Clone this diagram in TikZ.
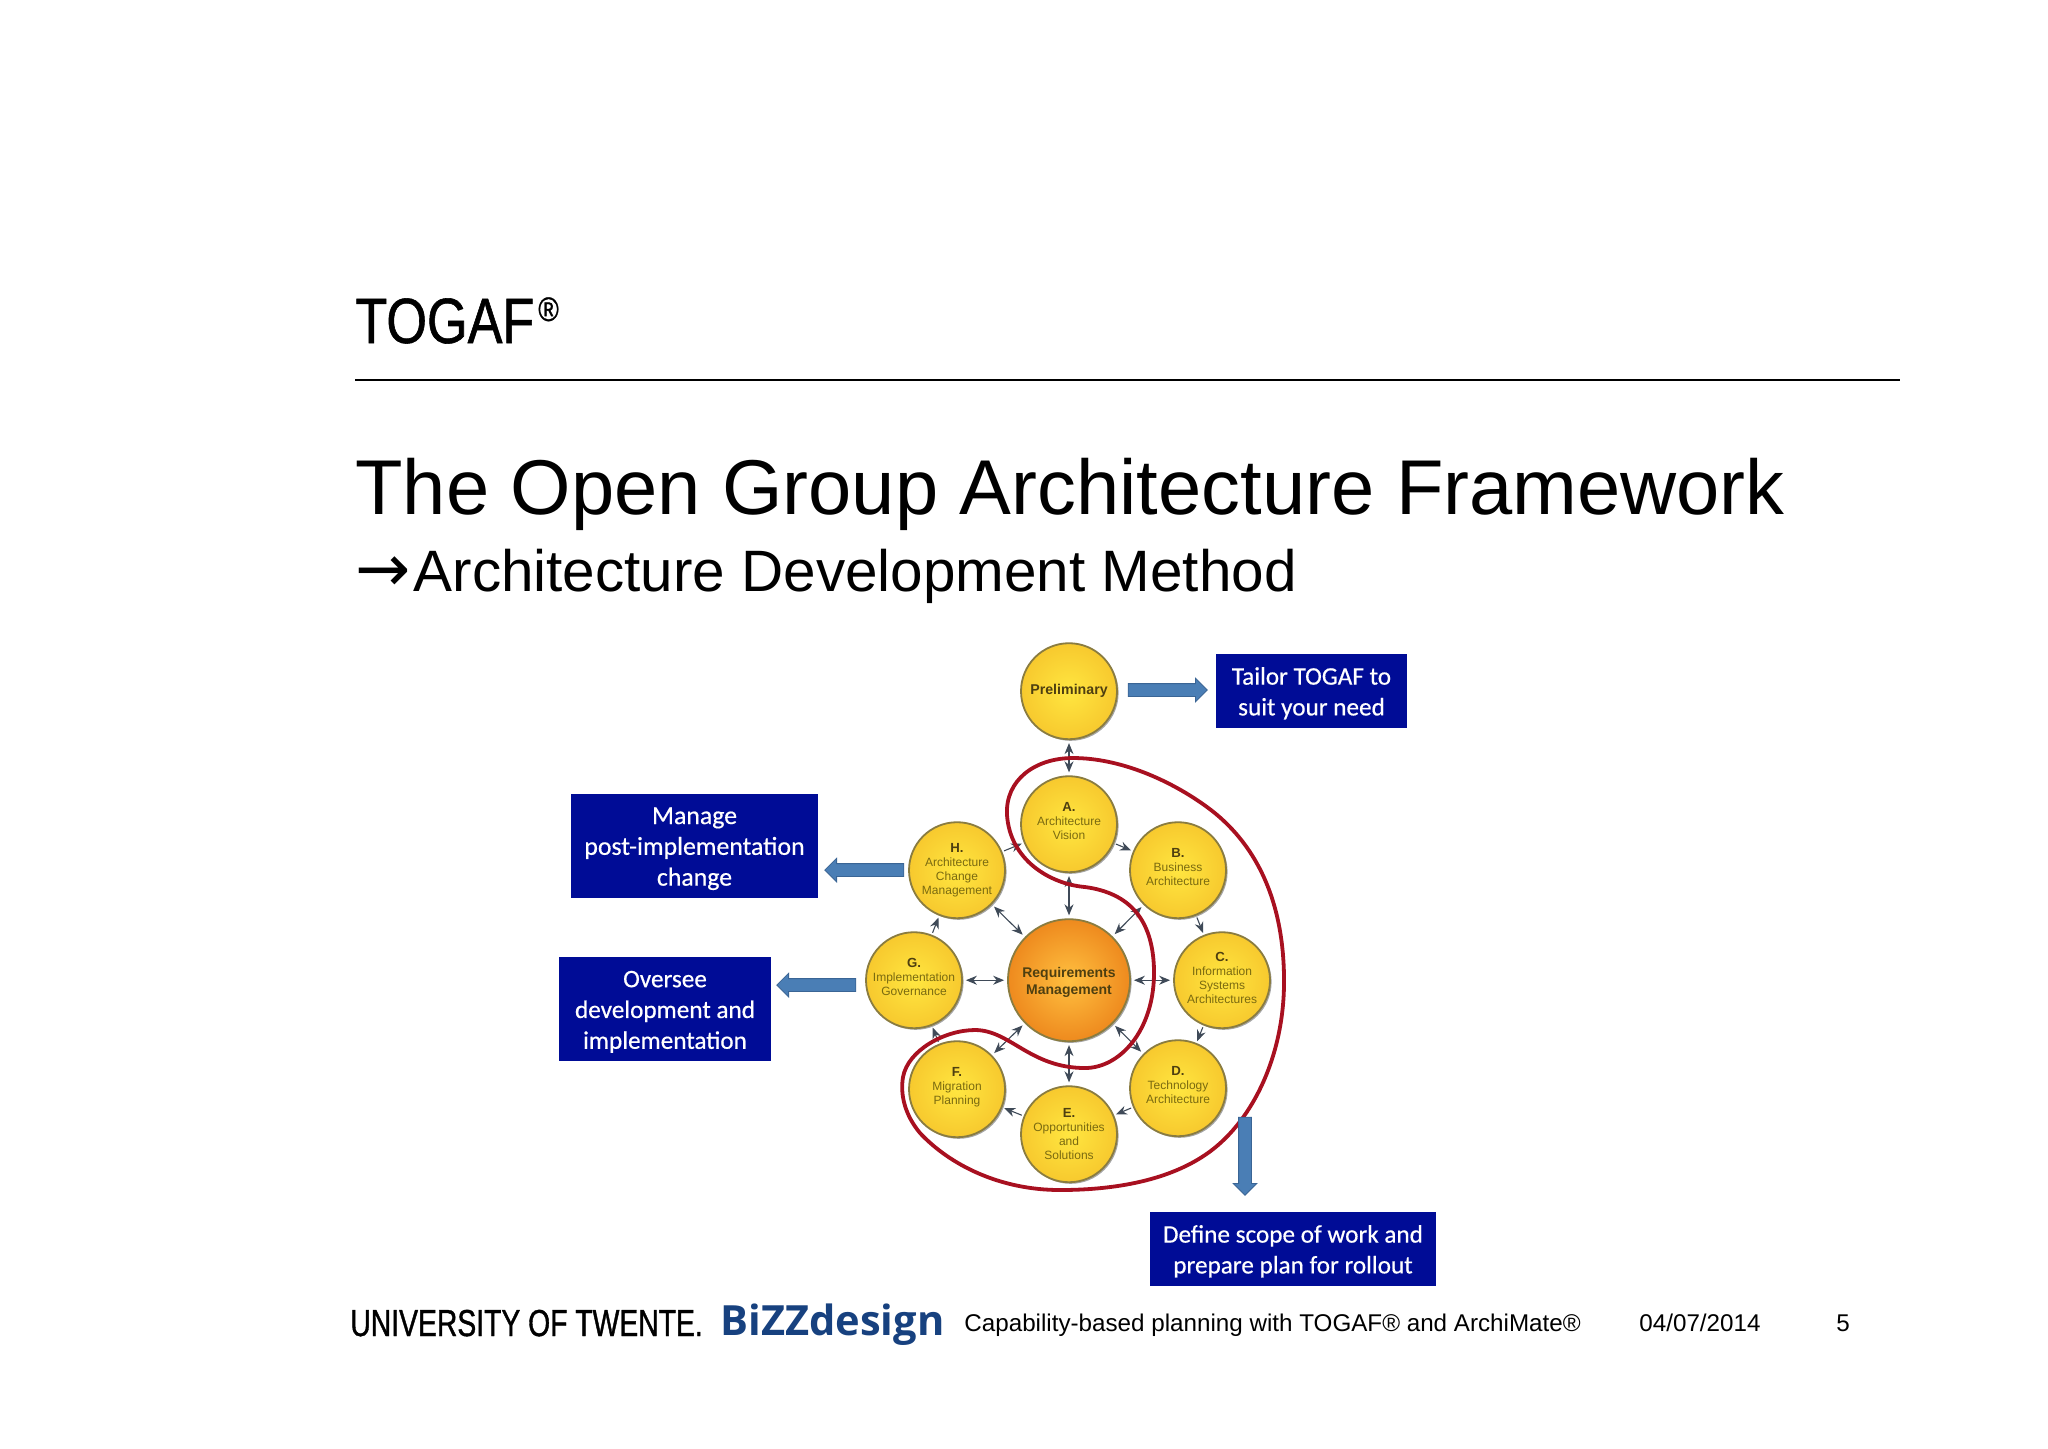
\documentclass[tikz,border=0pt]{standalone}
\usepackage{fontspec}
\setmainfont{Liberation Sans}
\newfontfamily\condfont[FakeStretch=0.816,FakeBold=0.9]{Liberation Sans}
\newfontfamily\ufont[FakeStretch=0.753,FakeBold=1]{Liberation Sans}
\newfontfamily\boxfont[FakeBold=0.5]{Carlito}
\newfontfamily\logofont{Open Sans}
\newfontfamily\arrowfont{DejaVu Sans}
\usetikzlibrary{arrows.meta,shapes.arrows,shadows}
\definecolor{ballrim}{HTML}{8A7C40}
\definecolor{ballmid}{HTML}{FFE640}
\definecolor{ballout}{HTML}{F7C92E}
\definecolor{reqmid}{HTML}{FFC040}
\definecolor{reqout}{HTML}{EE8A1E}
\definecolor{boxblue}{HTML}{000C96}
\definecolor{arrowblue}{HTML}{4A7EB5}
\definecolor{arrowrim}{HTML}{3A6595}
\definecolor{loopred}{HTML}{A81020}
\definecolor{linkgrey}{HTML}{3F4A58}
\definecolor{balltext}{HTML}{7A6A10}
\definecolor{balldark}{HTML}{4E3F10}
\definecolor{logoblue}{HTML}{17417F}
\tikzset{
  ball/.style={circle,draw=ballrim,line width=0.9pt,inner color=ballmid,outer color=ballout,
    minimum size=48pt,inner sep=0pt,align=center,font=\fontsize{6}{7}\selectfont,text=balltext,
    drop shadow={shadow xshift=0.8pt,shadow yshift=-0.8pt,opacity=0.35,fill=black}},
  reqball/.style={ball,inner color=reqmid,outer color=reqout,minimum size=61pt,
    font=\fontsize{7}{8.6}\selectfont\bfseries,text=balldark},
  infobox/.style={fill=boxblue,text=white,align=center,inner sep=0pt,font=\boxfont\fontsize{12.6}{15.4}\selectfont},
  blockarrow/.style={single arrow,draw=arrowrim,line width=0.4pt,fill=arrowblue,inner sep=3pt,
    minimum width=11.5pt,single arrow head extend=2.7pt,single arrow head indent=0pt},
  oneway/.style={draw=linkgrey,line width=0.55pt,-{Stealth[length=5.5pt,width=4.5pt]},shorten >=1pt,shorten <=1pt},
  twoway/.style={draw=linkgrey,line width=0.55pt,{Stealth[length=5.5pt,width=4.5pt]}-{Stealth[length=5.5pt,width=4.5pt]},shorten >=1.5pt,shorten <=1.5pt},
  loopline/.style={draw=loopred,line width=1.9pt},
  plain/.style={inner sep=0pt,anchor=base west,text=black}
}
\newcommand{\ltr}[1]{{\fontsize{6.6}{7}\selectfont\bfseries\textcolor{balldark}{#1}}}
\newcommand{\boxlift}{\rule{0pt}{11pt}}
\newcommand{\ballup}{\rule[-3pt]{0pt}{0pt}}
\begin{document}
\begin{tikzpicture}[x=0.5pt,y=-0.5pt]
\useasboundingbox (0,0) rectangle (2048,1448);
\fill[white] (0,0) rectangle (2048,1448);
% headings
\node[plain,font=\condfont\fontsize{32}{32}\selectfont] (togaf) at (355,343) {TOGAF\kern2pt\raisebox{11pt}{\fontsize{17}{17}\selectfont ®}};
\coordinate (ruleL) at (355,380);
\coordinate (ruleR) at (1900,380);
\draw[line width=1.2pt] (ruleL) -- (ruleR);
\node[plain,font=\fontsize{38.85}{40}\selectfont] (title) at (355,514.5) {The Open Group Architecture Framework};
\node[plain,font=\fontsize{29.2}{30}\selectfont] (subtitle) at (355,591) {{\arrowfont\fontsize{33}{33}\selectfont →}\kern1.5pt Architecture Development Method};
% balls
\begin{scope}[yshift=-0.6pt]
\node[ball,font=\fontsize{7.1}{8.6}\selectfont\bfseries,text=balldark] (P) at (1069,690) {\rule{0pt}{5pt}Preliminary};
\node[ball] (A) at (1069,823) {\ltr{A.}\\Architecture\\Vision\ballup};
\node[ball] (B) at (1178,869) {\ltr{B.}\\Business\\Architecture\ballup};
\node[ball] (C) at (1222,979) {\ltr{C.}\\Information\\Systems\\Architectures\rule[-2pt]{0pt}{0pt}};
\node[ball] (D) at (1178,1087) {\ltr{D.}\\Technology\\Architecture\ballup};
\node[ball] (E) at (1069,1133) {\ltr{E.}\\Opportunities\\and\\Solutions};
\node[ball] (F) at (957,1088) {\ltr{F.}\\Migration\\Planning\ballup};
\node[ball] (G) at (914,979) {\ltr{G.}\\Implementation\\Governance\ballup};
\node[ball] (H) at (957,869) {\ltr{H.}\\Architecture\\Change\\Management};
\node[reqball] (R) at (1069,979) {\rule{0pt}{7.5pt}Requirements\\Management};
\end{scope}
% links
\draw[twoway] (P) -- (A);
\draw[oneway] (A) -- (B);
\draw[oneway] (B) -- (C);
\draw[oneway] (C) -- (D);
\draw[oneway] (D) -- (E);
\draw[oneway] (E) -- (F);
\draw[oneway] (F) -- (G);
\draw[oneway] (G) -- (H);
\draw[oneway] (H) -- (A);
\foreach \n in {A,B,C,D,E,F,G,H} {\draw[twoway] (R) -- (\n);}
% red loop
\draw[loopline] (1073,758) .. controls (1120,758) and (1170,780) .. (1207,807)
  .. controls (1255,842) and (1285,900) .. (1284,985)
  .. controls (1283,1060) and (1250,1125) .. (1205,1155)
  .. controls (1165,1182) and (1110,1190) .. (1060,1190)
  .. controls (1000,1190) and (950,1165) .. (920,1133)
  .. controls (905,1115) and (900,1095) .. (903,1077)
  .. controls (908,1050) and (945,1030) .. (975,1030)
  .. controls (1010,1030) and (1030,1068) .. (1085,1068)
  .. controls (1120,1068) and (1155,1030) .. (1154,970)
  .. controls (1153,920) and (1130,893) .. (1085,887)
  .. controls (1050,884) and (1010,860) .. (1007,815)
  .. controls (1005,780) and (1035,758) .. (1073,758) -- cycle;
% boxes
\node[infobox,minimum width=95.5pt,minimum height=37pt] (tailor) at (1311.5,691) {\boxlift Tailor TOGAF to\\suit your need};
\node[infobox,font=\boxfont\fontsize{12.9}{15.4}\selectfont,minimum width=123.5pt,minimum height=52pt] (manage) at (694.5,846) {\boxlift Manage\\post-implementation\\change};
\node[infobox,minimum width=106pt,minimum height=52pt] (oversee) at (665,1009) {\boxlift Oversee\\development and\\implementation};
\node[infobox,minimum width=143pt,minimum height=37pt] (define) at (1293,1249) {\boxlift Define scope of work and\\prepare plan for rollout};
% block arrows
\node[blockarrow,minimum height=39.5pt] (a1) at (1164.5,690) {};
\node[blockarrow,minimum height=39.5pt,shape border rotate=180] (a2) at (867.5,870) {};
\node[blockarrow,minimum height=39.5pt,shape border rotate=180] (a3) at (819.5,985) {};
\node[blockarrow,minimum height=39pt,shape border rotate=270] (a4) at (1245,1153) {};
% footer
\node[plain,font=\ufont\fontsize{18.8}{20}\selectfont] (ut) at (350,1336) {UNIVERSITY OF TWENTE.};
\node[plain,font=\logofont\fontsize{20.8}{24}\selectfont\bfseries,text=logoblue] (biz) at (720,1335) {BiZZdesign};
\node[plain,font=\fontsize{12.1}{13}\selectfont] (talk) at (964,1331) {Capability-based planning with TOGAF® and ArchiMate®};
\node[plain,font=\fontsize{12.1}{13}\selectfont] (date) at (1639,1331) {04/07/2014};
\node[plain,font=\fontsize{12.1}{13}\selectfont] (page) at (1836,1331) {5};
\end{tikzpicture}
\end{document}
